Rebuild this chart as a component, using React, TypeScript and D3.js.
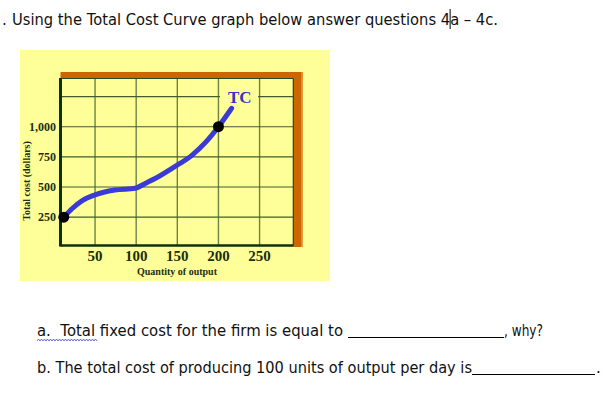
import { useEffect, useRef } from "react"
import * as d3 from "d3"

// quantity of output (x) and total cost in dollars (y)
const quantity = [12, 22, 34, 50, 74, 99, 111, 123, 146, 168, 184, 200, 216]
const totalCost = [250, 320, 385, 435, 475, 490, 530, 570, 665, 765, 868, 1000, 1153]
// the two marked points on the curve
const markedQ = [12, 200]
const markedTC = [250, 1000]

const xTicks = [50, 100, 150, 200, 250]
const yTicks = [250, 500, 750, 1000]
const yGrid = [250, 500, 750, 1000, 1250]

const title = "Using the Total Cost Curve graph below answer questions 4a – 4c."
const questionA = "a.  Total fixed cost for the firm is equal to"
const questionAEnd = ", why?"
const questionB = "b. The total cost of producing 100 units of output per day is"

const W = 604
const H = 398

export default function App() {
  const svgRef = useRef<SVGSVGElement>(null)

  useEffect(() => {
    if (!svgRef.current) return
    const svg = d3.select(svgRef.current)
    svg.selectAll("*").remove()

    const sans = "'DejaVu Sans', Verdana, sans-serif"
    const serif = "'Liberation Serif', 'Times New Roman', serif"
    const labelColor = "#1c2e10"
    const fs = 15

    // page text
    svg.append("text").attr("x", 2).attr("y", 25).attr("font-family", sans).attr("font-size", fs).attr("fill", "#111").text(".")
    const titleText = svg
      .append("text")
      .attr("x", 12)
      .attr("y", 25)
      .attr("font-family", sans)
      .attr("font-size", fs)
      .attr("fill", "#111")
      .attr("textLength", 486)
      .attr("lengthAdjust", "spacingAndGlyphs")
      .text(title)
    // text cursor between "4" and "a"
    let caretX = 439.5
    try {
      const node = titleText.node() as SVGTextElement
      caretX = node.getStartPositionOfChar(title.indexOf("4a") + 1).x
    } catch (e) {
      // keep the estimate
    }
    svg.append("line").attr("x1", caretX).attr("x2", caretX).attr("y1", 9).attr("y2", 29).attr("stroke", "#000").attr("stroke-width", 1)

    // chart panel
    const panel = { x: 20, y: 50, w: 310, h: 231 }
    svg.append("rect").attr("x", panel.x).attr("y", panel.y).attr("width", panel.w).attr("height", panel.h).attr("fill", "#ffff99")

    const left = 60.5
    const right = 293.3
    const top = 78.5
    const bottom = 245.5

    const x = d3.scaleLinear().domain([8, 291]).range([left, right])
    const y = d3.scaleLinear().domain([15, 1400]).range([bottom, top])

    // orange shadow frame
    svg.append("rect").attr("x", left).attr("y", 72).attr("width", 302.5 - left).attr("height", 7).attr("fill", "#cc6600")
    svg.append("rect").attr("x", 293).attr("y", 72).attr("width", 9.5).attr("height", 247 - 72).attr("fill", "#cc6600")
    svg.append("rect").attr("x", 301).attr("y", 72).attr("width", 1.5).attr("height", 247 - 72).attr("fill", "#e8892a")

    // grid
    svg
      .append("g")
      .selectAll("line")
      .data(xTicks)
      .join("line")
      .attr("x1", (d) => x(d))
      .attr("x2", (d) => x(d))
      .attr("y1", top)
      .attr("y2", bottom)
      .attr("stroke", "#6c8440")
      .attr("stroke-width", 1.4)
    svg
      .append("g")
      .selectAll("line")
      .data(yGrid)
      .join("line")
      .attr("x1", left)
      .attr("x2", right)
      .attr("y1", (d) => y(d))
      .attr("y2", (d) => y(d))
      .attr("stroke", "#3f5e2c")
      .attr("stroke-width", 1.2)

    // frame lines
    svg.append("line").attr("x1", left).attr("x2", right).attr("y1", top).attr("y2", top).attr("stroke", "#2d4a1e").attr("stroke-width", 1.2)
    svg.append("line").attr("x1", right).attr("x2", right).attr("y1", top).attr("y2", bottom).attr("stroke", "#2d4a1e").attr("stroke-width", 1.2)
    svg.append("line").attr("x1", left).attr("x2", left).attr("y1", top - 0.5).attr("y2", bottom + 1).attr("stroke", "#0f3010").attr("stroke-width", 3)
    svg.append("line").attr("x1", left).attr("x2", right).attr("y1", bottom).attr("y2", bottom).attr("stroke", "#0f3010").attr("stroke-width", 2.5)

    // TC label with a yellow patch behind it
    svg.append("rect").attr("x", x(200) + 1.5).attr("y", 86).attr("width", x(250) - x(200) - 3).attr("height", 18).attr("fill", "#ffff99")
    svg
      .append("text")
      .attr("x", 228)
      .attr("y", 103)
      .attr("font-family", serif)
      .attr("font-weight", "bold")
      .attr("font-size", 17)
      .attr("fill", "#3434c8")
      .text("TC")

    // curve
    const pts = quantity.map((q, i) => [q, totalCost[i]] as [number, number])
    const line = d3
      .line<[number, number]>()
      .x((d) => x(d[0]))
      .y((d) => y(d[1]))
      .curve(d3.curveMonotoneX)
    svg
      .append("path")
      .attr("d", line(pts))
      .attr("fill", "none")
      .attr("stroke", "#3a3ad6")
      .attr("stroke-width", 5)
      .attr("stroke-linecap", "round")
      .attr("stroke-linejoin", "round")

    svg
      .append("g")
      .selectAll("circle")
      .data(markedQ)
      .join("circle")
      .attr("cx", (d) => x(d))
      .attr("cy", (d, i) => y(markedTC[i]))
      .attr("r", 5.5)
      .attr("fill", "#000")

    // tick labels
    svg
      .append("g")
      .selectAll("text")
      .data(yTicks)
      .join("text")
      .attr("x", 56)
      .attr("y", (d) => y(d) + 4)
      .attr("text-anchor", "end")
      .attr("font-family", serif)
      .attr("font-weight", "bold")
      .attr("font-size", 12)
      .attr("fill", labelColor)
      .text((d) => d3.format(",")(d))
    svg
      .append("g")
      .selectAll("text")
      .data(xTicks)
      .join("text")
      .attr("x", (d) => x(d))
      .attr("y", 261)
      .attr("text-anchor", "middle")
      .attr("font-family", serif)
      .attr("font-weight", "bold")
      .attr("font-size", 15)
      .attr("fill", labelColor)
      .text((d) => d)

    svg
      .append("text")
      .attr("x", 177)
      .attr("y", 275)
      .attr("text-anchor", "middle")
      .attr("font-family", serif)
      .attr("font-weight", "bold")
      .attr("font-size", 10)
      .attr("fill", labelColor)
      .text("Quantity of output")
    svg
      .append("text")
      .attr("transform", "translate(29.5,181) rotate(-90)")
      .attr("text-anchor", "middle")
      .attr("font-family", serif)
      .attr("font-weight", "bold")
      .attr("font-size", 10)
      .attr("fill", labelColor)
      .text("Total cost (dollars)")

    // questions
    svg
      .append("text")
      .attr("x", 37)
      .attr("y", 336)
      .attr("font-family", sans)
      .attr("font-size", fs)
      .attr("fill", "#111")
      .attr("textLength", 306)
      .attr("lengthAdjust", "spacingAndGlyphs")
      .style("white-space", "pre")
      .text(questionA)
    svg.append("line").attr("x1", 348).attr("x2", 504).attr("y1", 337.5).attr("y2", 337.5).attr("stroke", "#000").attr("stroke-width", 1)
    svg
      .append("text")
      .attr("x", 504)
      .attr("y", 336)
      .attr("font-family", sans)
      .attr("font-size", fs)
      .attr("fill", "#111")
      .attr("textLength", 39)
      .attr("lengthAdjust", "spacingAndGlyphs")
      .text(questionAEnd)

    // spell-check squiggle under "a.  Total"
    const wave = d3.range(37, 98.5, 1.5).map((px, i) => [px, i % 2 ? 339 : 341] as [number, number])
    svg.append("path").attr("d", d3.line()(wave)).attr("fill", "none").attr("stroke", "#4a4ae0").attr("stroke-width", 0.8)

    svg
      .append("text")
      .attr("x", 37)
      .attr("y", 373)
      .attr("font-family", sans)
      .attr("font-size", fs)
      .attr("fill", "#111")
      .attr("textLength", 435)
      .attr("lengthAdjust", "spacingAndGlyphs")
      .text(questionB)
    svg.append("line").attr("x1", 472).attr("x2", 595).attr("y1", 374.5).attr("y2", 374.5).attr("stroke", "#000").attr("stroke-width", 1)
    svg.append("text").attr("x", 596).attr("y", 373).attr("font-family", sans).attr("font-size", fs).attr("fill", "#111").text(".")
  }, [])

  return <svg ref={svgRef} width={W} height={H} style={{ position: "absolute", left: 0, top: 0, background: "#fff" }} />
}
